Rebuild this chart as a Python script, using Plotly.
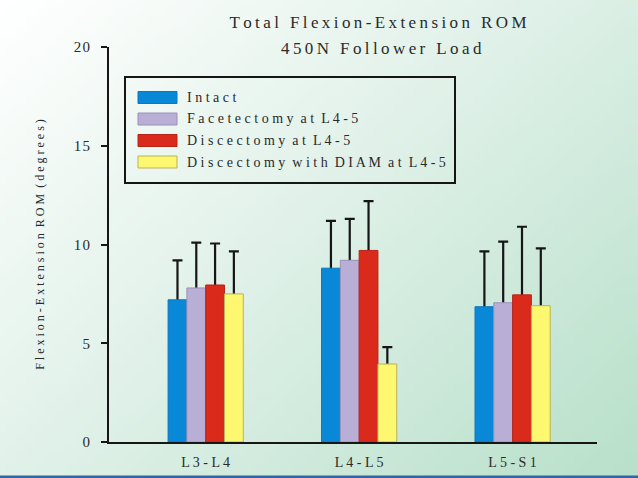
import base64, struct, zlib
import plotly.graph_objects as go

# ---------------- data ----------------
levels = ["L3-L4", "L4-L5", "L5-S1"]
series = ["Intact", "Facetectomy at L4-5", "Discectomy at L4-5", "Discectomy with DIAM at L4-5"]
intact = [7.2, 8.8, 6.85]
intact_sd = [2.0, 2.4, 2.8]
facet = [7.8, 9.2, 7.05]
facet_sd = [2.3, 2.1, 3.1]
disc = [7.95, 9.7, 7.45]
disc_sd = [2.1, 2.5, 3.45]
diam = [7.5, 3.95, 6.9]
diam_sd = [2.15, 0.85, 2.9]
y_ticks = [0, 5, 10, 15, 20]

colors = ["#0a88d8", "#b8aed6", "#da2a1c", "#fdf870"]
edges = ["#0a78c0", "#9a90b8", "#b82418", "#b9b25a"]

W, H = 638, 478
L, R, T, B = 109, 41, 47, 36
pw, ph = W - L - R, H - T - B


def xp(px):
    return (px - L) / pw


def yp(py):
    return (H - B - py) / ph


def spaced(s, sep=" ", wsep=" \u00a0"):
    return wsep.join(sep.join(w) for w in s.split(" "))


# ---------------- gradient background as PNG ----------------
def make_png(w, h):
    c0 = (255, 255, 255)
    c1 = (222, 240, 231)
    c2 = (184, 224, 202)
    rows = []
    for j in range(h):
        row = bytearray([0])
        for i in range(w):
            t = (i / (w - 1) * 0.55 + j / (h - 1) * 0.45)
            if t < 0.5:
                a, b, u = c0, c1, t / 0.5
            else:
                a, b, u = c1, c2, (t - 0.5) / 0.5
            row += bytes(int(round(a[k] + (b[k] - a[k]) * u)) for k in range(3))
        rows.append(bytes(row))
    raw = b"".join(rows)

    def chunk(tag, data):
        c = struct.pack(">I", len(data)) + tag + data
        return c + struct.pack(">I", zlib.crc32(tag + data) & 0xFFFFFFFF)

    png = b"\x89PNG\r\n\x1a\n"
    png += chunk(b"IHDR", struct.pack(">IIBBBBB", w, h, 8, 2, 0, 0, 0))
    png += chunk(b"IDAT", zlib.compress(raw, 9))
    png += chunk(b"IEND", b"")
    return "data:image/png;base64," + base64.b64encode(png).decode()


bg = make_png(64, 48)

vals = [intact, facet, disc, diam]
sds = [intact_sd, facet_sd, disc_sd, diam_sd]

fig = go.Figure()
# error bars first (drawn beneath the bars so only the upper part shows)
for k in range(4):
    fig.add_trace(go.Bar(
        x=levels, y=vals[k], offsetgroup=str(k), showlegend=False,
        marker=dict(color="rgba(0,0,0,0)", line=dict(width=0)),
        error_y=dict(type="data", symmetric=False, array=sds[k], arrayminus=vals[k],
                     color="#161616", thickness=2.2, width=5),
        hoverinfo="skip",
    ))
for k in range(4):
    fig.add_trace(go.Bar(
        x=levels, y=vals[k], offsetgroup=str(k), name=series[k], showlegend=False,
        marker=dict(color=colors[k], line=dict(color=edges[k], width=1)),
    ))

font = "Liberation Serif, Times New Roman, serif"
ink = "#2a2a2a"

# ---------------- boxed legend (drawn as shapes + text) ----------------
shapes = [dict(type="rect", xref="paper", yref="paper",
               x0=xp(125), x1=xp(455), y0=yp(183), y1=yp(77),
               line=dict(color="#161616", width=2), fillcolor="rgba(0,0,0,0)")]
annotations = []
row_y = [97.5, 119, 140.5, 162]
for k in range(4):
    shapes.append(dict(type="rect", xref="paper", yref="paper",
                       x0=xp(138), x1=xp(177), y0=yp(row_y[k] + 6), y1=yp(row_y[k] - 6),
                       fillcolor=colors[k], line=dict(color=edges[k], width=1)))
    annotations.append(dict(text=spaced(series[k]), xref="paper", yref="paper",
                            x=xp(185), y=yp(row_y[k]), xanchor="left", yanchor="middle",
                            showarrow=False, font=dict(family=font, size=14, color=ink)))

# second title line
annotations.append(dict(text=spaced("450N Follower Load", sep="\u2009", wsep="\u2009 \u2009"),
                        xref="paper", yref="paper", x=xp(381), y=yp(48),
                        xanchor="center", yanchor="middle", showarrow=False,
                        font=dict(family=font, size=17, color=ink)))

# bottom blue strip
shapes.append(dict(type="rect", xref="paper", yref="paper",
                   x0=xp(0), x1=xp(W), y0=yp(478), y1=yp(475.5),
                   fillcolor="#2f66a8", line=dict(width=0), layer="above"))

fig.update_layout(
    width=W, height=H,
    margin=dict(l=L, r=R, t=T, b=B, pad=0),
    paper_bgcolor="white",
    plot_bgcolor="rgba(0,0,0,0)",
    barmode="group", bargap=0.51, bargroupgap=0,
    font=dict(family=font, size=14, color=ink),
    showlegend=False,
    title=dict(
        text=spaced("Total Flexion-Extension ROM", sep="\u2009", wsep="\u2009 \u2009"),
        x=378 / W, xanchor="center", xref="container",
        y=1 - 22 / H, yanchor="middle", yref="container",
        font=dict(family=font, size=17, color=ink),
    ),
    xaxis=dict(
        range=[-0.63, 2.55], showline=True, linecolor="#161616", linewidth=2,
        ticks="", showgrid=False, zeroline=False, automargin=False,
        tickvals=levels, ticktext=[spaced(s) for s in levels],
        tickfont=dict(size=14), ticklabelstandoff=6,
    ),
    yaxis=dict(
        range=[0, 20], showline=True, linecolor="#161616", linewidth=2,
        ticks="outside", ticklen=6, tickwidth=2, tickcolor="#161616",
        tickvals=y_ticks, ticktext=[spaced(str(v), sep="\u200a") for v in y_ticks],
        showgrid=False, zeroline=False, tickfont=dict(size=15), automargin=False,
        ticklabelstandoff=8,
        title=dict(text=spaced("Flexion-Extension ROM (degrees)"), standoff=27,
                   font=dict(size=12)),
    ),
    images=[dict(
        source=bg, xref="paper", yref="paper",
        x=xp(0), y=yp(0), sizex=W / pw, sizey=H / ph,
        xanchor="left", yanchor="top", sizing="stretch", layer="below",
    )],
    shapes=shapes,
    annotations=annotations,
)

fig.write_html("out.html", config={"displayModeBar": False},
               post_script="document.body.style.margin='0';")
